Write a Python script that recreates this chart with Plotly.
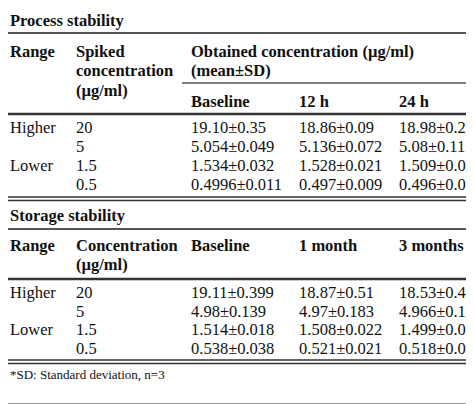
import plotly.graph_objects as go

process_title = "Process stability"
storage_title = "Storage stability"
ranges = ["Higher", "", "Lower", ""]
spiked = ["20", "5", "1.5", "0.5"]
process_cols = ["Baseline", "12 h", "24 h"]
process_vals = [
    ["19.10±0.35", "18.86±0.09", "18.98±0.2"],
    ["5.054±0.049", "5.136±0.072", "5.08±0.117"],
    ["1.534±0.032", "1.528±0.021", "1.509±0.031"],
    ["0.4996±0.011", "0.497±0.009", "0.496±0.016"],
]
storage_cols = ["Baseline", "1 month", "3 months"]
storage_vals = [
    ["19.11±0.399", "18.87±0.51", "18.53±0.455"],
    ["4.98±0.139", "4.97±0.183", "4.966±0.185"],
    ["1.514±0.018", "1.508±0.022", "1.499±0.026"],
    ["0.538±0.038", "0.521±0.021", "0.518±0.03"],
]
footnote = "*SD: Standard deviation, n=3"

FONT = "Liberation Serif"
SZ = 16.5
colx = [0, 66, 181, 289, 389]

fig = go.Figure()
ann = []
shapes = []

def txt(x, y, s, bold=False, size=SZ):
    ann.append(dict(x=x, y=y, xref="x", yref="y", text=f"<b>{s}</b>" if bold else s,
                    showarrow=False, xanchor="left", yanchor="middle",
                    font=dict(family=FONT, size=size, color="#111")))

def hline(y, x0=0, x1=474, w=2, color="#555"):
    shapes.append(dict(type="line", xref="x", yref="y", x0=x0, x1=x1, y0=y, y1=y,
                       line=dict(color=color, width=w)))

# Process section
txt(colx[0], 12, process_title, True)
hline(25)
txt(colx[0], 43, "Range", True)
for i, s in enumerate(["Spiked", "concentration", "(µg/ml)"]):
    txt(colx[1], 43 + 19.5 * i, s, True)
txt(colx[2], 43, "Obtained concentration (µg/ml)", True)
txt(colx[2], 62, "(mean±SD)", True)
hline(75, x0=174, w=1.5)
for j, c in enumerate(process_cols):
    txt(colx[2 + j], 93, c, True)
hline(106, w=2.5, color="#333")
rows_p = [119, 138, 157, 176]
for i, y in enumerate(rows_p):
    txt(colx[0], y, ranges[i]); txt(colx[1], y, spiked[i])
    for j in range(3):
        txt(colx[2 + j], y, process_vals[i][j])
hline(189, w=1.5, color="#333"); hline(192.5, w=1.5, color="#333")

# Storage section
txt(colx[0], 207, storage_title, True)
hline(221)
txt(colx[0], 237, "Range", True)
txt(colx[1], 237, "Concentration", True)
txt(colx[1], 256, "(µg/ml)", True)
for j, c in enumerate(storage_cols):
    txt(colx[2 + j], 237, c, True)
hline(271, w=2.5, color="#333")
rows_s = [284, 303, 321, 340]
for i, y in enumerate(rows_s):
    txt(colx[0], y, ranges[i]); txt(colx[1], y, spiked[i])
    for j in range(3):
        txt(colx[2 + j], y, storage_vals[i][j])
hline(352, w=1.5, color="#333"); hline(355.5, w=1.5, color="#333")
txt(colx[0], 366, footnote, size=13)
hline(396, w=1.5, color="#777")

fig.update_layout(
    width=474, height=404, margin=dict(l=0, r=0, t=0, b=0, pad=0, autoexpand=False),
    paper_bgcolor="white", plot_bgcolor="white",
    xaxis=dict(range=[0, 474], visible=False, fixedrange=True),
    yaxis=dict(range=[404, 0], visible=False, fixedrange=True),
    annotations=ann, shapes=shapes, showlegend=False,
)
fig.write_html("out.html", config={"displayModeBar": False})
